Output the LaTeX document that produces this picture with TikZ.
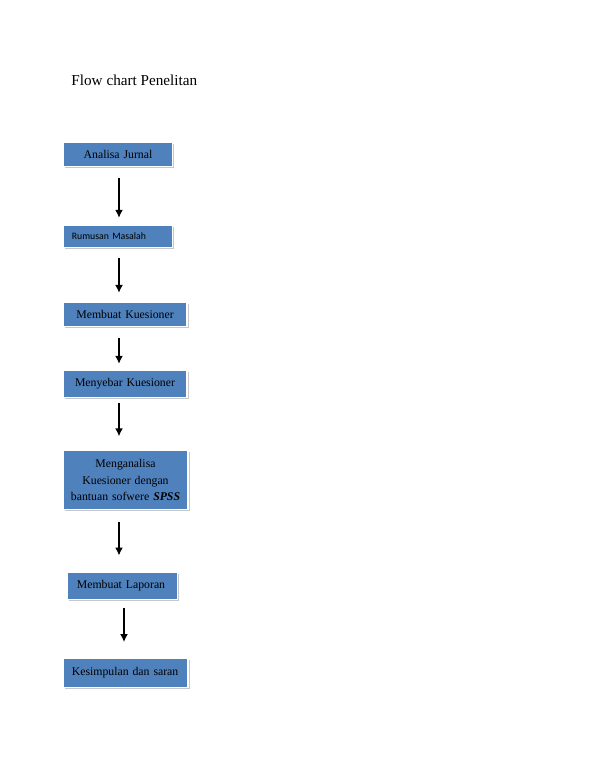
\documentclass[tikz,border=0pt]{standalone}
\usepackage{fontspec}
\setmainfont{Liberation Serif}
\newfontfamily\calibrifont{Carlito}
\usetikzlibrary{arrows.meta,shadows}

\definecolor{boxblue}{RGB}{79,129,189}
\tikzset{
  stepbox/.style={fill=boxblue, draw=white, line width=1.2pt,
    drop shadow={shadow xshift=1.6pt, shadow yshift=-1.6pt, fill=black!22, opacity=1},
    inner xsep=0pt, inner ysep=2pt, font=\fontsize{12}{14}\selectfont},
  flow/.style={-{Latex[length=8pt,width=8pt]}, line width=1.5pt}
}

\begin{document}
\begin{tikzpicture}[x=1.02pt,y=-1.02pt]
  \useasboundingbox (0,0) rectangle (600,776);

  \node[anchor=base west, font=\fontsize{15.5}{18}\selectfont] (title) at (68,85) {Flow chart Penelitan};

  \node[stepbox, text width=112pt, align=center, minimum height=25pt] (jurnal) at (118,154.5) {Analisa Jurnal};
  \node[stepbox, text width=112pt, align=left, minimum height=23pt, font=\calibrifont\fontsize{10}{12}\selectfont] (masalah) at (118,236.5) {\hspace*{9pt}Rumusan Masalah};
  \node[stepbox, text width=126.5pt, align=center, minimum height=25pt] (membuat) at (125,314.5) {Membuat Kuesioner};
  \node[stepbox, text width=126.5pt, align=center, minimum height=28pt] (menyebar) at (125,384) {Menyebar Kuesioner};
  \node[stepbox, text width=127.5pt, align=center, minimum height=60pt, font=\fontsize{12}{16.5}\selectfont] (analisa) at (125.5,480)
    {Menganalisa\\ Kuesioner dengan\\ bantuan sofwere \textbf{\textit{SPSS}}};
  \node[stepbox, text width=113pt, align=left, minimum height=27pt] (laporan) at (122.5,586) {\hspace*{10pt}Membuat Laporan};
  \node[stepbox, text width=127.5pt, align=left, minimum height=30pt] (saran) at (125.5,673) {\hspace*{9pt}Kesimpulan dan saran};

  \coordinate (ax) at (119,0);
  \coordinate (bx) at (124,0);
  \draw[flow, shorten <=11pt, shorten >=7pt] (jurnal.south -| ax) -- (masalah.north -| ax);
  \draw[flow, shorten <=10pt, shorten >=9pt] (masalah.south -| ax) -- (membuat.north -| ax);
  \draw[flow, shorten <=11pt, shorten >=6pt] (membuat.south -| ax) -- (menyebar.north -| ax);
  \draw[flow, shorten <=5pt, shorten >=14pt] (menyebar.south -| ax) -- (analisa.north -| ax);
  \draw[flow, shorten <=12pt, shorten >=17pt] (analisa.south -| ax) -- (laporan.north -| ax);
  \draw[flow, shorten <=8pt, shorten >=16pt] (laporan.south -| bx) -- (saran.north -| bx);
\end{tikzpicture}
\end{document}
